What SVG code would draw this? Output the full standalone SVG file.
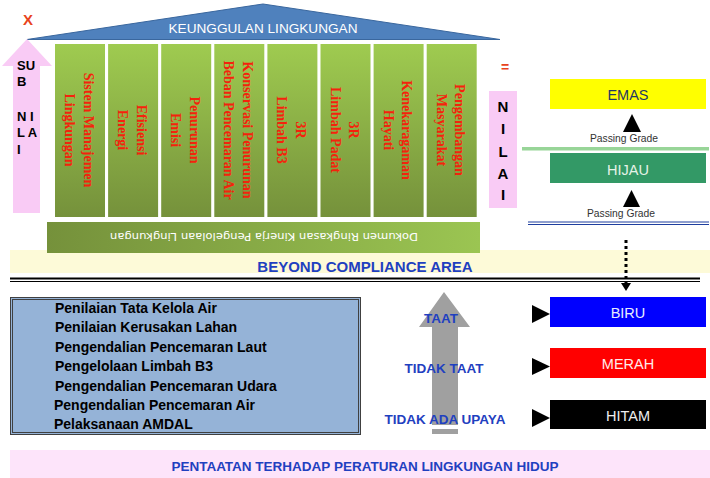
<svg xmlns="http://www.w3.org/2000/svg" width="710" height="478" viewBox="0 0 710 478">
<defs>
<linearGradient id="colG" x1="0" y1="0" x2="0" y2="1">
<stop offset="0" stop-color="#9fcb50"/>
<stop offset="1" stop-color="#75913b"/>
</linearGradient>
<linearGradient id="baseG" x1="0" y1="0" x2="1" y2="0">
<stop offset="0" stop-color="#75913b"/>
<stop offset="1" stop-color="#9bc552"/>
</linearGradient>
</defs>
<style>
.col{fill:url(#colG);}
.ct{font-family:"Liberation Serif",serif;font-weight:bold;font-size:14px;fill:#f5220c;text-anchor:middle;}
.blk{font-family:"Liberation Sans",Arial,sans-serif;font-weight:bold;fill:#000;}
.blue{font-family:"Liberation Sans",Arial,sans-serif;font-weight:bold;fill:#1f40c0;text-anchor:middle;}
.grade{font-family:"Liberation Sans",Arial,sans-serif;font-size:14.5px;text-anchor:middle;}
.pg{font-family:"Liberation Sans",Arial,sans-serif;font-size:10.3px;fill:#333;text-anchor:middle;}
.red{font-family:"Liberation Sans",Arial,sans-serif;font-weight:bold;fill:#e8431c;text-anchor:middle;}
.pink{fill:#f9cbf5;}
</style>
<rect width="710" height="478" fill="#ffffff"/>

<!-- bands -->
<g id="beyond-band">
<rect x="10" y="250" width="700" height="23" fill="#fdfad8"/>
<text class="blue" x="365" y="272" font-size="15">BEYOND COMPLIANCE AREA</text>
</g>
<g id="pentaatan-band">
<rect x="10" y="450" width="700" height="28" fill="#fde4fa"/>
<text class="blue" x="365" y="471" font-size="13.5">PENTAATAN TERHADAP PERATURAN LINGKUNGAN HIDUP</text>
</g>

<!-- roof -->
<g id="roof">
<polygon points="27,39.5 263,4 500,39.5" fill="#4f81bd" stroke="#3a679e" stroke-width="1"/>
<text x="263" y="33" font-family="'Liberation Sans',Arial,sans-serif" font-size="13.5" fill="#ffffff" text-anchor="middle" textLength="189" lengthAdjust="spacingAndGlyphs">KEUNGGULAN LINGKUNGAN</text>
</g>

<!-- sub nilai arrow -->
<g id="sub-nilai">
<polygon class="pink" points="27,39 52,66 40,66 40,213 13,213 13,66 2,66"/>
<text class="blk" font-size="13" x="17" y="70">SU</text>
<text class="blk" font-size="13" x="17" y="86">B</text>
<text class="blk" font-size="13" x="17" y="121">N I</text>
<text class="blk" font-size="13" x="17" y="137">L A</text>
<text class="blk" font-size="13" x="17" y="154">I</text>
</g>
<text id="x-sign" class="red" x="28" y="25" font-size="15">X</text>
<text id="eq-sign" class="red" x="505" y="72" font-size="14">=</text>

<!-- columns -->
<g id="col-1"><rect class="col" x="55" y="44" width="50" height="173"/>
<text class="ct" transform="translate(80,130) rotate(90)"><tspan x="0" y="-3.5">Sistem Manajemen</tspan><tspan x="0" y="15">Lingkungan</tspan></text></g>
<g id="col-2"><rect class="col" x="108.1" y="44" width="50" height="173"/>
<text class="ct" transform="translate(133.1,130) rotate(90)"><tspan x="0" y="-3.5">Efisiensi</tspan><tspan x="0" y="15">Energi</tspan></text></g>
<g id="col-3"><rect class="col" x="161.2" y="44" width="50" height="173"/>
<text class="ct" transform="translate(186.2,130) rotate(90)"><tspan x="0" y="-3.5">Penurunan</tspan><tspan x="0" y="15">Emisi</tspan></text></g>
<g id="col-4"><rect class="col" x="214.3" y="44" width="50" height="173"/>
<text class="ct" transform="translate(239.3,130) rotate(90)"><tspan x="0" y="-3.5">Konservasi Penurunan</tspan><tspan x="0" y="15">Beban Pencemaran Air</tspan></text></g>
<g id="col-5"><rect class="col" x="267.4" y="44" width="50" height="173"/>
<text class="ct" transform="translate(292.4,130) rotate(90)"><tspan x="0" y="-3.5">3R</tspan><tspan x="0" y="15">Limbah B3</tspan></text></g>
<g id="col-6"><rect class="col" x="320.5" y="44" width="50" height="173"/>
<text class="ct" transform="translate(345.5,130) rotate(90)"><tspan x="0" y="-3.5">3R</tspan><tspan x="0" y="15">Limbah Padat</tspan></text></g>
<g id="col-7"><rect class="col" x="373.6" y="44" width="50" height="173"/>
<text class="ct" transform="translate(398.6,130) rotate(90)"><tspan x="0" y="-3.5">Kenekaragaman</tspan><tspan x="0" y="15">Hayati</tspan></text></g>
<g id="col-8"><rect class="col" x="426.7" y="44" width="50" height="173"/>
<text class="ct" transform="translate(451.7,130) rotate(90)"><tspan x="0" y="-3.5">Pengembangan</tspan><tspan x="0" y="15">Masyarakat</tspan></text></g>

<!-- base -->
<g id="base">
<rect x="47" y="222" width="433" height="31" fill="url(#baseG)"/>
<text x="264" y="241" transform="rotate(180 264 237)" font-family="'DejaVu Sans',Verdana,sans-serif" font-size="11" fill="#ffffff" text-anchor="middle" textLength="308" lengthAdjust="spacingAndGlyphs">Dokumen Ringkasan Kinerja Pengelolaan Lingkungan</text>
</g>

<!-- NILAI -->
<g id="nilai">
<rect class="pink" x="489" y="91" width="28" height="117"/>
<text class="blk" font-size="15" text-anchor="middle" x="503" y="112">N</text>
<text class="blk" font-size="15" text-anchor="middle" x="503" y="134">I</text>
<text class="blk" font-size="15" text-anchor="middle" x="503" y="157">L</text>
<text class="blk" font-size="15" text-anchor="middle" x="503" y="179">A</text>
<text class="blk" font-size="15" text-anchor="middle" x="503" y="200">I</text>
</g>

<!-- grades -->
<g id="emas"><rect x="550" y="79" width="156" height="30" fill="#ffff00"/>
<text class="grade" x="628" y="100" fill="#1f3864">EMAS</text></g>
<g id="hijau"><rect x="550" y="153" width="156" height="30" fill="#339966"/>
<text class="grade" x="628" y="175" fill="#e6f3e6">HIJAU</text></g>
<g id="biru"><rect x="550" y="297" width="156" height="30" fill="#0000ff"/>
<text class="grade" x="628" y="318" fill="#e8ecff">BIRU</text></g>
<g id="merah"><rect x="550" y="348" width="156" height="30" fill="#ff0000"/>
<text class="grade" x="628" y="369" fill="#ffecec">MERAH</text></g>
<g id="hitam"><rect x="550" y="400" width="156" height="29" fill="#000000"/>
<text class="grade" x="628" y="421" fill="#eeeeee">HITAM</text></g>

<g id="passing-1"><text class="pg" x="624" y="142">Passing Grade</text></g>
<g id="passing-2"><text class="pg" x="621" y="217">Passing Grade</text></g>

<!-- separator lines -->
<g id="lines">
<rect x="522" y="147" width="187" height="3.5" fill="#98d598"/>
<line x1="528" y1="222" x2="709" y2="222" stroke="#1f3f9f" stroke-width="1"/>
<line x1="528" y1="224.5" x2="709" y2="224.5" stroke="#1f3f9f" stroke-width="1"/>
<line x1="10" y1="278.5" x2="700" y2="278.5" stroke="#000" stroke-width="2"/>
<line x1="10" y1="281.5" x2="700" y2="281.5" stroke="#000" stroke-width="1"/>
</g>

<!-- compliance list box -->
<g id="compliance-list">
<rect x="10.5" y="297.5" width="350" height="137" fill="#95b3d7" stroke="#404040" stroke-width="1"/>
<rect x="12.5" y="299.5" width="346" height="133" fill="none" stroke="#404040" stroke-width="1"/>
<text class="blk" font-size="14" x="55" y="313">Penilaian Tata Kelola Air</text>
<text class="blk" font-size="14" x="55" y="332">Penilaian Kerusakan Lahan</text>
<text class="blk" font-size="14" x="55" y="352">Pengendalian Pencemaran Laut</text>
<text class="blk" font-size="14" x="55" y="371">Pengelolaan Limbah B3</text>
<text class="blk" font-size="14" x="55" y="391">Pengendalian Pencemaran Udara</text>
<text class="blk" font-size="14" x="54" y="410">Pengendalian Pencemaran Air</text>
<text class="blk" font-size="14" x="54" y="429">Pelaksanaan AMDAL</text>
</g>

<!-- gray arrow -->
<g id="compliance-arrow">
<polygon points="444,292 470,327 458,327 458,425 432,425 432,327 419,327" fill="#a0a0a0"/>
<rect x="432" y="429" width="26" height="5" fill="#a0a0a0"/>
</g>
<g id="compliance-labels">
<text class="blue" x="441" y="323" font-size="13.5">TAAT</text>
<text class="blue" x="444" y="373" font-size="13.5">TIDAK TAAT</text>
<text class="blue" x="445" y="424" font-size="13.5">TIDAK ADA UPAYA</text>
</g>

<!-- connectors -->
<g id="connectors">
<polygon points="623,132 632,114 641,132" fill="#000"/>
<polygon points="623,207 631.5,190 640,207" fill="#000"/>
<line x1="626" y1="240" x2="626" y2="284" stroke="#000" stroke-width="3" stroke-dasharray="3 3"/>
<polygon points="621,283 631,283 626,291" fill="#000"/>
<polygon points="532,305 550,314 532,323" fill="#000"/>
<polygon points="532,358 550,366.5 532,375" fill="#000"/>
<polygon points="532,409 550,418 532,427" fill="#000"/>
</g>
</svg>
